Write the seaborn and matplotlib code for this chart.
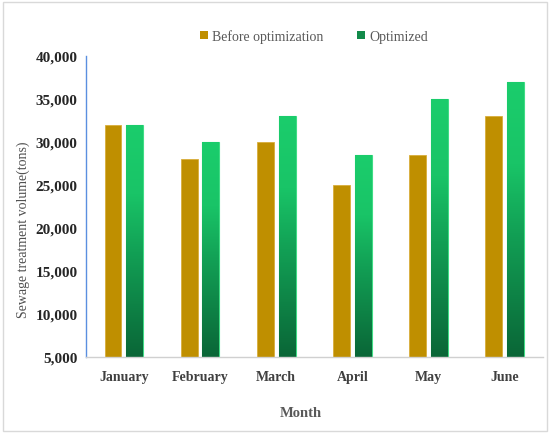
import numpy as np
import pandas as pd
import matplotlib
matplotlib.use("Agg")
import matplotlib.pyplot as plt
import seaborn as sns
from matplotlib.colors import LinearSegmentedColormap
from matplotlib.patches import Rectangle
from matplotlib.ticker import FuncFormatter

months = ["January", "February", "March", "April", "May", "June"]
before = [32000, 28000, 30000, 25000, 28500, 33000]
optimized = [32000, 30000, 33000, 28500, 35000, 37000]
series_names = ["Before optimization", "Optimized"]

df = pd.DataFrame({
    "Month": months * 2,
    "Volume": before + optimized,
    "Series": [series_names[0]] * len(months) + [series_names[1]] * len(months),
})

sns.set_style("white")
plt.rcParams["font.family"] = ["Liberation Serif", "DejaVu Serif"]

gold = "#BF8F00"
green_top = "#1ACC6B"
green_cmap = LinearSegmentedColormap.from_list(
    "grn", [(0.0, "#0A6637"), (0.45, "#12A055"), (0.7, "#19C467"), (1.0, "#1BCD6C")])

fig = plt.figure(figsize=(5.5, 4.35), dpi=100)
ax = fig.add_axes([0.156, 0.177, 0.831, 0.692])

sns.barplot(data=df, x="Month", y="Volume", hue="Series", order=months,
            hue_order=series_names, palette=[gold, green_top], saturation=1,
            width=0.57, gap=0.22, ax=ax, legend=False)

ymin, ymax = 5000, 40000

# gradient fill for the optimized bars, gold bars get a light edge
grad = np.linspace(0, 1, 256).reshape(-1, 1)
for p in ax.containers[0]:
    p.set_edgecolor("#D9AE3A")
    p.set_linewidth(0.6)
for p in ax.containers[1]:
    x0 = p.get_x()
    w = p.get_width()
    h = p.get_height()
    im = ax.imshow(grad, cmap=green_cmap, origin="lower", aspect="auto",
                   extent=(x0, x0 + w, ymin, h), zorder=p.get_zorder())
    im.set_clip_path(p)
    p.set_facecolor("none")
    p.set_edgecolor("#3FDC85")
    p.set_linewidth(0.8)
ax.set_xlim(-0.5, len(months) - 0.5)
ax.set_ylim(ymin, ymax)

ax.set_yticks(np.arange(5000, 40001, 5000))
ax.yaxis.set_major_formatter(FuncFormatter(lambda v, _: f"{int(v):,}"))

for s in ["top", "right"]:
    ax.spines[s].set_visible(False)
ax.spines["left"].set_color("#5B8FE0")
ax.spines["left"].set_linewidth(1.0)
ax.spines["bottom"].set_color("#D0D0D0")
ax.spines["bottom"].set_linewidth(1.0)

ax.tick_params(axis="y", direction="in", length=4, color="#5B8FE0", width=1.0,
               labelsize=11, pad=6)
ax.tick_params(axis="x", length=0, labelsize=10, pad=9, labelcolor="#404040")
for lbl in ax.get_yticklabels():
    lbl.set_fontweight("bold")
for lbl in ax.get_xticklabels():
    lbl.set_fontweight("bold")

ax.set_xlabel("Month", fontsize=10.5, fontweight="bold", color="#595959")
ax.xaxis.set_label_coords(0.47, -0.163)
ax.set_ylabel("Sewage treatment volume(tons)", fontsize=10, color="#505050")
ax.yaxis.set_label_coords(-0.122, 0.425)

# legend
handles = [Rectangle((0, 0), 1, 1, facecolor=gold, edgecolor="none"),
           Rectangle((0, 0), 1, 1, facecolor="#128A4A", edgecolor="none")]
fig.legend(handles, series_names, loc="center", bbox_to_anchor=(0.571, 0.915),
           ncol=2, frameon=False, fontsize=10, handlelength=0.6, handleheight=0.6,
           handletextpad=0.3, columnspacing=2.4, labelcolor="#595959")

# outer border
fig.patches.append(Rectangle((0.006, 0.006), 0.988, 0.988, transform=fig.transFigure,
                             fill=False, edgecolor="#D9D9D9", linewidth=1.0))

fig.savefig("out.png", dpi=100)
